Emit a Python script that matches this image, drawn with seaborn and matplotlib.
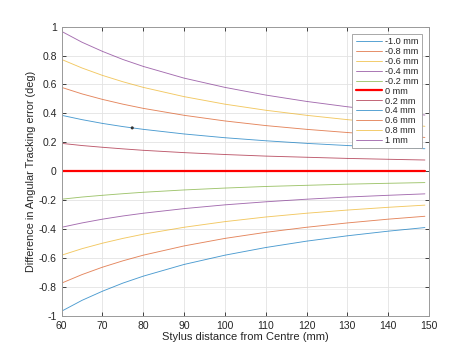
import matplotlib
matplotlib.use('Agg')
import matplotlib.pyplot as plt
import numpy as np
import pandas as pd
import seaborn as sns

# stylus distance from centre (mm)
dist = [60, 65, 70, 75, 80, 90, 100, 110, 120, 130, 140, 149]

# difference in angular tracking error (deg) per offset
m10 = [-0.967, -0.892, -0.829, -0.773, -0.725, -0.644, -0.580, -0.527, -0.483, -0.446, -0.414, -0.389]
m08 = [-0.773, -0.714, -0.663, -0.619, -0.580, -0.516, -0.464, -0.422, -0.387, -0.357, -0.331, -0.311]
m06 = [-0.580, -0.535, -0.497, -0.464, -0.435, -0.387, -0.348, -0.316, -0.290, -0.268, -0.249, -0.234]
m04 = [-0.387, -0.357, -0.331, -0.309, -0.290, -0.258, -0.232, -0.211, -0.193, -0.178, -0.166, -0.156]
m02 = [-0.193, -0.178, -0.166, -0.155, -0.145, -0.129, -0.116, -0.105, -0.097, -0.089, -0.083, -0.078]
z00 = [0, 0, 0, 0, 0, 0, 0, 0, 0, 0, 0, 0]
p02 = [0.193, 0.178, 0.166, 0.155, 0.145, 0.129, 0.116, 0.105, 0.097, 0.089, 0.083, 0.078]
p04 = [0.387, 0.357, 0.331, 0.309, 0.290, 0.258, 0.232, 0.211, 0.193, 0.178, 0.166, 0.156]
p06 = [0.580, 0.535, 0.497, 0.464, 0.435, 0.387, 0.348, 0.316, 0.290, 0.268, 0.249, 0.234]
p08 = [0.773, 0.714, 0.663, 0.619, 0.580, 0.516, 0.464, 0.422, 0.387, 0.357, 0.331, 0.311]
p10 = [0.967, 0.892, 0.829, 0.773, 0.725, 0.644, 0.580, 0.527, 0.483, 0.446, 0.414, 0.389]

labels = ['-1.0 mm', '-0.8 mm', '-0.6 mm', '-0.4 mm', '-0.2 mm', '0 mm',
          '0.2 mm', '0.4 mm', '0.6 mm', '0.8 mm', '1 mm']
series = [m10, m08, m06, m04, m02, z00, p02, p04, p06, p08, p10]

# data tip
tip_x = [77.3]
tip_y = [0.30]

# matlab default colour order
mcol = ['#0072BD', '#D95319', '#EDB120', '#7E2F8E', '#77AC30', '#4DBEEE', '#A2142F']
colors = [mcol[i % 7] for i in range(11)]
colors[5] = '#FF0000'

sns.set_style('white')
plt.rcParams['font.family'] = ['Liberation Sans', 'DejaVu Sans']

fig = plt.figure(figsize=(4.74, 3.55), dpi=100)
ax = fig.add_axes([0.13, 0.11, 0.775, 0.815])

for lab, vals, c in zip(labels, series, colors):
    thick = lab == '0 mm'
    sns.lineplot(x=dist, y=vals, ax=ax, color=c, linewidth=1.6 if thick else 0.65,
                 label=lab, alpha=1 if thick else 0.7)

sns.scatterplot(x=tip_x, y=tip_y, ax=ax, color='#333333', s=5, edgecolor='none', zorder=5)

ax.set_xlim(60, 150)
ax.set_ylim(-1, 1)
ax.set_xticks(np.arange(60, 151, 10))
yt = [-1, -0.8, -0.6, -0.4, -0.2, 0, 0.2, 0.4, 0.6, 0.8, 1]
ax.set_yticks(yt)
ax.set_yticklabels(['%g' % v for v in yt])
ax.grid(True, color='#e3e3e3', linewidth=0.6)
ax.tick_params(direction='in', length=3, width=0.6, labelsize=7.5, colors='#262626',
               top=True, right=True, bottom=True, left=True)
for s in ax.spines.values():
    s.set_color('#9a9a9a')
    s.set_linewidth(0.7)
ax.set_xlabel('Stylus distance from Centre (mm)', fontsize=8, color='#262626', labelpad=1)
ax.set_ylabel('Difference in Angular Tracking error (deg)', fontsize=7.8, color='#262626', labelpad=2)

leg = ax.legend(loc='upper right', fontsize=6.6, frameon=True, fancybox=False, framealpha=1,
                edgecolor='#9a9a9a', handlelength=2.9, borderpad=0.35, labelspacing=0.1,
                handletextpad=0.3, borderaxespad=0, bbox_to_anchor=(0.98, 0.975))
leg.get_frame().set_linewidth(0.6)

fig.savefig('out.png', dpi=100)
